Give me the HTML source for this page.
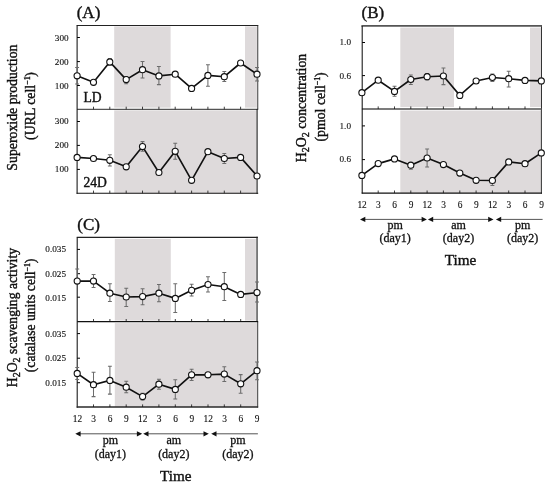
<!DOCTYPE html>
<html lang="en"><head><meta charset="utf-8"><title>Figure</title>
<style>
html,body{margin:0;padding:0;background:#fff;}
body{width:550px;height:489px;overflow:hidden;}
svg{display:block;font-family:'Liberation Serif', 'DejaVu Serif', serif;fill:#111;}
text{stroke:#111;stroke-width:0.4px;}
text.s{stroke-width:0.12px;}
text.m{stroke-width:0.3px;}
</style></head><body>
<svg width="550" height="489" viewBox="0 0 550 489">
<rect width="550" height="489" fill="#fff"/>
<rect x="114.2" y="26.40" width="56.4" height="81.25" fill="#dedadb"/>
<rect x="245.0" y="26.40" width="11.9" height="81.25" fill="#dedadb"/>
<rect x="114.2" y="110.35" width="142.2" height="82.85" fill="#dedadb"/>
<path d="M257.75 25.00L257.75 109.30" fill="none" stroke="#222" stroke-width="0.9"/>
<path d="M257.10 109.30L257.10 193.70" fill="none" stroke="#555" stroke-width="1.5"/>
<path d="M76.60 25.50L258.20 25.50" fill="none" stroke="#222" stroke-width="1.0"/>
<path d="M77.10 109.30L258.20 109.30" fill="none" stroke="#111" stroke-width="0.9"/>
<path d="M77.10 25.50V193.72" fill="none" stroke="#111" stroke-width="1.05"/>
<path d="M76.60 193.20L258.20 193.20" fill="none" stroke="#111" stroke-width="1.05"/>
<path d="M93.5 109.3v-2.6M93.5 193.2v-2.6M109.8 109.3v-2.6M109.8 193.2v-2.6M126.2 109.3v-2.6M126.2 193.2v-2.6M142.5 109.3v-2.6M142.5 193.2v-2.6M158.9 109.3v-2.6M158.9 193.2v-2.6M175.2 109.3v-2.6M175.2 193.2v-2.6M191.6 109.3v-2.6M191.6 193.2v-2.6M207.9 109.3v-2.6M207.9 193.2v-2.6M224.3 109.3v-2.6M224.3 193.2v-2.6M240.6 109.3v-2.6M240.6 193.2v-2.6" fill="none" stroke="#111" stroke-width="0.8"/>
<path d="M77.1 37.5h2.8M77.1 61.6h2.8M77.1 85.5h2.8M77.1 121.5h2.8M77.1 145.4h2.8M77.1 169.4h2.8" fill="none" stroke="#000" stroke-width="1"/>
<text x="68.6" y="40.8" font-size="9.2" text-anchor="end"  class="s">300</text>
<text x="68.6" y="64.9" font-size="9.2" text-anchor="end"  class="s">200</text>
<text x="68.6" y="88.8" font-size="9.2" text-anchor="end"  class="s">100</text>
<text x="68.6" y="123.8" font-size="9.2" text-anchor="end"  class="s">300</text>
<text x="68.6" y="147.7" font-size="9.2" text-anchor="end"  class="s">200</text>
<text x="68.6" y="171.7" font-size="9.2" text-anchor="end"  class="s">100</text>
<path d="M77.1 67.5V84.0M75.15 67.5h3.9M75.15 84.0h3.9M109.8 58.5V65.3M107.86 58.5h3.9M107.86 65.3h3.9M126.2 76.5V83.7M124.21 76.5h3.9M124.21 83.7h3.9M142.5 61.4V78.0M140.57 61.4h3.9M140.57 78.0h3.9M158.9 66.5V84.6M156.92 66.5h3.9M156.92 84.6h3.9M207.9 64.8V86.2M205.99 64.8h3.9M205.99 86.2h3.9M224.3 71.5V81.4M222.34 71.5h3.9M222.34 81.4h3.9M257.0 67.5V81.0M255.05 67.5h3.9M255.05 81.0h3.9" fill="none" stroke="#6c6c6c" stroke-width="1.05"/>
<polyline points="77.1,75.8 93.5,82.3 109.8,61.9 126.2,79.6 142.5,69.7 158.9,75.9 175.2,74.2 191.6,88.4 207.9,75.4 224.3,76.7 240.6,63.0 257.0,74.2" fill="none" stroke="#111" stroke-width="1.65" stroke-linejoin="round"/>
<circle cx="77.1" cy="75.8" r="3.05" fill="#fff" stroke="#111" stroke-width="1.1"/>
<circle cx="93.5" cy="82.3" r="3.05" fill="#fff" stroke="#111" stroke-width="1.1"/>
<circle cx="109.8" cy="61.9" r="3.05" fill="#fff" stroke="#111" stroke-width="1.1"/>
<circle cx="126.2" cy="79.6" r="3.05" fill="#fff" stroke="#111" stroke-width="1.1"/>
<circle cx="142.5" cy="69.7" r="3.05" fill="#fff" stroke="#111" stroke-width="1.1"/>
<circle cx="158.9" cy="75.9" r="3.05" fill="#fff" stroke="#111" stroke-width="1.1"/>
<circle cx="175.2" cy="74.2" r="3.05" fill="#fff" stroke="#111" stroke-width="1.1"/>
<circle cx="191.6" cy="88.4" r="3.05" fill="#fff" stroke="#111" stroke-width="1.1"/>
<circle cx="207.9" cy="75.4" r="3.05" fill="#fff" stroke="#111" stroke-width="1.1"/>
<circle cx="224.3" cy="76.7" r="3.05" fill="#fff" stroke="#111" stroke-width="1.1"/>
<circle cx="240.6" cy="63.0" r="3.05" fill="#fff" stroke="#111" stroke-width="1.1"/>
<circle cx="257.0" cy="74.2" r="3.05" fill="#fff" stroke="#111" stroke-width="1.1"/>
<path d="M109.8 154.7V165.9M107.86 154.7h3.9M107.86 165.9h3.9M142.5 141.6V151.3M140.57 141.6h3.9M140.57 151.3h3.9M175.2 143.2V159.2M173.28 143.2h3.9M173.28 159.2h3.9M224.3 153.5V163.4M222.34 153.5h3.9M222.34 163.4h3.9" fill="none" stroke="#6c6c6c" stroke-width="1.05"/>
<polyline points="77.1,157.4 93.5,158.5 109.8,160.3 126.2,166.8 142.5,146.6 158.9,172.5 175.2,151.3 191.6,180.3 207.9,151.7 224.3,158.5 240.6,157.4 257.0,176.0" fill="none" stroke="#111" stroke-width="1.65" stroke-linejoin="round"/>
<circle cx="77.1" cy="157.4" r="3.05" fill="#fff" stroke="#111" stroke-width="1.1"/>
<circle cx="93.5" cy="158.5" r="3.05" fill="#fff" stroke="#111" stroke-width="1.1"/>
<circle cx="109.8" cy="160.3" r="3.05" fill="#fff" stroke="#111" stroke-width="1.1"/>
<circle cx="126.2" cy="166.8" r="3.05" fill="#fff" stroke="#111" stroke-width="1.1"/>
<circle cx="142.5" cy="146.6" r="3.05" fill="#fff" stroke="#111" stroke-width="1.1"/>
<circle cx="158.9" cy="172.5" r="3.05" fill="#fff" stroke="#111" stroke-width="1.1"/>
<circle cx="175.2" cy="151.3" r="3.05" fill="#fff" stroke="#111" stroke-width="1.1"/>
<circle cx="191.6" cy="180.3" r="3.05" fill="#fff" stroke="#111" stroke-width="1.1"/>
<circle cx="207.9" cy="151.7" r="3.05" fill="#fff" stroke="#111" stroke-width="1.1"/>
<circle cx="224.3" cy="158.5" r="3.05" fill="#fff" stroke="#111" stroke-width="1.1"/>
<circle cx="240.6" cy="157.4" r="3.05" fill="#fff" stroke="#111" stroke-width="1.1"/>
<circle cx="257.0" cy="176.0" r="3.05" fill="#fff" stroke="#111" stroke-width="1.1"/>
<text x="83.5" y="101.6" font-size="13.6" text-anchor="start" >LD</text>
<text x="83.4" y="186.5" font-size="13.6" text-anchor="start" >24D</text>
<text x="76.7" y="17.8" font-size="17" text-anchor="start" >(A)</text>
<text transform="translate(17.2 107.6) rotate(-90)" font-size="13.8" text-anchor="middle">Superoxide production</text>
<text transform="translate(34.6 106.0) rotate(-90)" font-size="13.8" text-anchor="middle">(URL cell<tspan font-size="8" dy="-5">−1</tspan><tspan dy="5" dx="-0.4">)</tspan></text>
<rect x="400.3" y="27.55" width="53.7" height="79.50" fill="#dedadb"/>
<rect x="530.0" y="27.55" width="11.0" height="79.50" fill="#dedadb"/>
<rect x="400.3" y="110.55" width="140.7" height="82.55" fill="#dedadb"/>
<path d="M541.50 25.05L541.50 109.00" fill="none" stroke="#333" stroke-width="1.0"/>
<path d="M541.40 109.00L541.40 193.60" fill="none" stroke="#333" stroke-width="1.0"/>
<path d="M361.40 25.90L542.00 25.90" fill="none" stroke="#555" stroke-width="1.7"/>
<path d="M361.90 109.00L542.00 109.00" fill="none" stroke="#505050" stroke-width="1.7"/>
<path d="M362.20 25.90V193.62" fill="none" stroke="#111" stroke-width="1.05"/>
<path d="M361.70 193.10L542.00 193.10" fill="none" stroke="#111" stroke-width="1.05"/>
<path d="M378.2 109.0v-2.6M378.2 193.1v-2.6M394.5 109.0v-2.6M394.5 193.1v-2.6M410.8 109.0v-2.6M410.8 193.1v-2.6M427.1 109.0v-2.6M427.1 193.1v-2.6M443.4 109.0v-2.6M443.4 193.1v-2.6M459.8 109.0v-2.6M459.8 193.1v-2.6M476.1 109.0v-2.6M476.1 193.1v-2.6M492.4 109.0v-2.6M492.4 193.1v-2.6M508.7 109.0v-2.6M508.7 193.1v-2.6M525.0 109.0v-2.6M525.0 193.1v-2.6" fill="none" stroke="#111" stroke-width="0.8"/>
<path d="M362.2 42.5h2.8M362.2 75.6h2.8M362.2 125.9h2.8M362.2 159.6h2.8" fill="none" stroke="#000" stroke-width="1"/>
<text x="351.0" y="45.1" font-size="9.2" text-anchor="end"  class="s">1.0</text>
<text x="351.0" y="78.5" font-size="9.2" text-anchor="end"  class="s">0.6</text>
<text x="351.0" y="129.0" font-size="9.2" text-anchor="end"  class="s">1.0</text>
<text x="351.0" y="162.3" font-size="9.2" text-anchor="end"  class="s">0.6</text>
<path d="M394.5 86.2V96.3M392.57 86.2h3.9M392.57 96.3h3.9M410.8 74.9V84.4M408.88 74.9h3.9M408.88 84.4h3.9M427.1 73.5V80.0M425.19 73.5h3.9M425.19 80.0h3.9M443.4 68.0V84.6M441.50 68.0h3.9M441.50 84.6h3.9M492.4 74.0V81.5M490.42 74.0h3.9M490.42 81.5h3.9M508.7 71.3V87.0M506.73 71.3h3.9M506.73 87.0h3.9" fill="none" stroke="#6c6c6c" stroke-width="1.05"/>
<polyline points="361.9,92.7 378.2,80.2 394.5,91.4 410.8,79.5 427.1,76.7 443.4,76.0 459.8,95.4 476.1,81.0 492.4,77.5 508.7,78.7 525.0,80.4 541.3,80.9" fill="none" stroke="#111" stroke-width="1.65" stroke-linejoin="round"/>
<circle cx="361.9" cy="92.7" r="3.05" fill="#fff" stroke="#111" stroke-width="1.1"/>
<circle cx="378.2" cy="80.2" r="3.05" fill="#fff" stroke="#111" stroke-width="1.1"/>
<circle cx="394.5" cy="91.4" r="3.05" fill="#fff" stroke="#111" stroke-width="1.1"/>
<circle cx="410.8" cy="79.5" r="3.05" fill="#fff" stroke="#111" stroke-width="1.1"/>
<circle cx="427.1" cy="76.7" r="3.05" fill="#fff" stroke="#111" stroke-width="1.1"/>
<circle cx="443.4" cy="76.0" r="3.05" fill="#fff" stroke="#111" stroke-width="1.1"/>
<circle cx="459.8" cy="95.4" r="3.05" fill="#fff" stroke="#111" stroke-width="1.1"/>
<circle cx="476.1" cy="81.0" r="3.05" fill="#fff" stroke="#111" stroke-width="1.1"/>
<circle cx="492.4" cy="77.5" r="3.05" fill="#fff" stroke="#111" stroke-width="1.1"/>
<circle cx="508.7" cy="78.7" r="3.05" fill="#fff" stroke="#111" stroke-width="1.1"/>
<circle cx="525.0" cy="80.4" r="3.05" fill="#fff" stroke="#111" stroke-width="1.1"/>
<circle cx="541.3" cy="80.9" r="3.05" fill="#fff" stroke="#111" stroke-width="1.1"/>
<path d="M410.8 162.5V169.3M408.88 162.5h3.9M408.88 169.3h3.9M427.1 149.0V167.0M425.19 149.0h3.9M425.19 167.0h3.9M459.8 170.5V175.7M457.80 170.5h3.9M457.80 175.7h3.9M492.4 177.6V185.5M490.42 177.6h3.9M490.42 185.5h3.9" fill="none" stroke="#6c6c6c" stroke-width="1.05"/>
<polyline points="361.9,175.4 378.2,163.6 394.5,158.9 410.8,165.2 427.1,158.0 443.4,164.6 459.8,173.1 476.1,180.3 492.4,180.5 508.7,161.9 525.0,163.7 541.3,152.9" fill="none" stroke="#111" stroke-width="1.65" stroke-linejoin="round"/>
<circle cx="361.9" cy="175.4" r="3.05" fill="#fff" stroke="#111" stroke-width="1.1"/>
<circle cx="378.2" cy="163.6" r="3.05" fill="#fff" stroke="#111" stroke-width="1.1"/>
<circle cx="394.5" cy="158.9" r="3.05" fill="#fff" stroke="#111" stroke-width="1.1"/>
<circle cx="410.8" cy="165.2" r="3.05" fill="#fff" stroke="#111" stroke-width="1.1"/>
<circle cx="427.1" cy="158.0" r="3.05" fill="#fff" stroke="#111" stroke-width="1.1"/>
<circle cx="443.4" cy="164.6" r="3.05" fill="#fff" stroke="#111" stroke-width="1.1"/>
<circle cx="459.8" cy="173.1" r="3.05" fill="#fff" stroke="#111" stroke-width="1.1"/>
<circle cx="476.1" cy="180.3" r="3.05" fill="#fff" stroke="#111" stroke-width="1.1"/>
<circle cx="492.4" cy="180.5" r="3.05" fill="#fff" stroke="#111" stroke-width="1.1"/>
<circle cx="508.7" cy="161.9" r="3.05" fill="#fff" stroke="#111" stroke-width="1.1"/>
<circle cx="525.0" cy="163.7" r="3.05" fill="#fff" stroke="#111" stroke-width="1.1"/>
<circle cx="541.3" cy="152.9" r="3.05" fill="#fff" stroke="#111" stroke-width="1.1"/>
<text x="361.5" y="18.4" font-size="17" text-anchor="start" >(B)</text>
<text transform="translate(306.4 108.0) rotate(-90)" font-size="13.8" text-anchor="middle">H<tspan font-size="10" dy="2.8">2</tspan><tspan dy="-2.8">O</tspan><tspan font-size="10" dy="2.8">2</tspan><tspan dy="-2.8"> concentration</tspan></text>
<text transform="translate(324.5 107.0) rotate(-90)" font-size="13.8" text-anchor="middle">(pmol cell<tspan font-size="8" dy="-5">−1</tspan><tspan dy="5" dx="-0.4">)</tspan></text>
<text x="362.1" y="207.7" font-size="9.4" text-anchor="middle"  class="s">12</text>
<text x="378.4" y="207.7" font-size="9.4" text-anchor="middle"  class="s">3</text>
<text x="394.7" y="207.7" font-size="9.4" text-anchor="middle"  class="s">6</text>
<text x="411.0" y="207.7" font-size="9.4" text-anchor="middle"  class="s">9</text>
<text x="427.3" y="207.7" font-size="9.4" text-anchor="middle"  class="s">12</text>
<text x="443.6" y="207.7" font-size="9.4" text-anchor="middle"  class="s">3</text>
<text x="460.0" y="207.7" font-size="9.4" text-anchor="middle"  class="s">6</text>
<text x="476.3" y="207.7" font-size="9.4" text-anchor="middle"  class="s">9</text>
<text x="492.6" y="207.7" font-size="9.4" text-anchor="middle"  class="s">12</text>
<text x="508.9" y="207.7" font-size="9.4" text-anchor="middle"  class="s">3</text>
<text x="525.2" y="207.7" font-size="9.4" text-anchor="middle"  class="s">6</text>
<text x="541.5" y="207.7" font-size="9.4" text-anchor="middle"  class="s">9</text>
<path d="M362.0 219.4H424.9" stroke="#555" stroke-width="1" fill="none"/>
<path d="M360.0 219.4l5.3 -2.6v5.2z" fill="#111"/>
<path d="M426.9 219.4l-5.3 -2.6v5.2z" fill="#111"/>
<path d="M429.9 219.4H491.5" stroke="#555" stroke-width="1" fill="none"/>
<path d="M427.9 219.4l5.3 -2.6v5.2z" fill="#111"/>
<path d="M493.5 219.4l-5.3 -2.6v5.2z" fill="#111"/>
<path d="M497.9 219.4H542.6" stroke="#555" stroke-width="1" fill="none"/>
<path d="M495.9 219.4l5.3 -2.6v5.2z" fill="#111"/>
<text x="395.1" y="229.0" font-size="12" text-anchor="middle"  class="m">pm</text>
<text x="395.1" y="242.4" font-size="12" text-anchor="middle"  class="m">(day1)</text>
<text x="458.5" y="229.0" font-size="12" text-anchor="middle"  class="m">am</text>
<text x="458.5" y="242.4" font-size="12" text-anchor="middle"  class="m">(day2)</text>
<text x="522.6" y="229.0" font-size="12" text-anchor="middle"  class="m">pm</text>
<text x="522.6" y="242.4" font-size="12" text-anchor="middle"  class="m">(day2)</text>
<text x="460.5" y="265.1" font-size="15.2" text-anchor="middle" >Time</text>
<rect x="114.8" y="238.90" width="56.0" height="81.70" fill="#dedadb"/>
<rect x="245.0" y="238.90" width="10.9" height="81.70" fill="#dedadb"/>
<rect x="114.8" y="323.10" width="142.2" height="83.90" fill="#dedadb"/>
<path d="M257.05 236.70L257.05 321.60" fill="none" stroke="#555" stroke-width="1.5"/>
<path d="M257.70 321.60L257.70 407.50" fill="none" stroke="#222" stroke-width="0.9"/>
<path d="M76.70 237.40L257.80 237.40" fill="none" stroke="#222" stroke-width="1.4"/>
<path d="M77.20 321.60L258.15 321.60" fill="none" stroke="#111" stroke-width="1.4"/>
<path d="M77.20 237.40V407.85" fill="none" stroke="#111" stroke-width="1.05"/>
<path d="M76.70 407.00L258.15 407.00" fill="none" stroke="#2a2a2a" stroke-width="1.7"/>
<path d="M93.5 321.6v-2.6M93.5 407.0v-2.6M109.9 321.6v-2.6M109.9 407.0v-2.6M126.2 321.6v-2.6M126.2 407.0v-2.6M142.6 321.6v-2.6M142.6 407.0v-2.6M158.9 321.6v-2.6M158.9 407.0v-2.6M175.3 321.6v-2.6M175.3 407.0v-2.6M191.6 321.6v-2.6M191.6 407.0v-2.6M208.0 321.6v-2.6M208.0 407.0v-2.6M224.3 321.6v-2.6M224.3 407.0v-2.6M240.7 321.6v-2.6M240.7 407.0v-2.6" fill="none" stroke="#111" stroke-width="0.8"/>
<path d="M77.2 249.4h2.8M77.2 273.7h2.8M77.2 297.2h2.8M77.2 333.6h2.8M77.2 358.2h2.8M77.2 382.7h2.8" fill="none" stroke="#000" stroke-width="1"/>
<text x="66.0" y="252.1" font-size="9.2" text-anchor="end"  class="s">0.035</text>
<text x="66.0" y="276.8" font-size="9.2" text-anchor="end"  class="s">0.025</text>
<text x="66.0" y="300.7" font-size="9.2" text-anchor="end"  class="s">0.015</text>
<text x="66.0" y="336.7" font-size="9.2" text-anchor="end"  class="s">0.035</text>
<text x="66.0" y="361.3" font-size="9.2" text-anchor="end"  class="s">0.025</text>
<text x="66.0" y="385.8" font-size="9.2" text-anchor="end"  class="s">0.015</text>
<path d="M77.2 269.0V283.0M75.25 269.0h3.9M75.25 283.0h3.9M93.5 274.5V287.5M91.60 274.5h3.9M91.60 287.5h3.9M109.9 283.8V301.4M107.94 283.8h3.9M107.94 301.4h3.9M126.2 288.3V306.5M124.29 288.3h3.9M124.29 306.5h3.9M142.6 288.7V304.7M140.63 288.7h3.9M140.63 304.7h3.9M158.9 284.5V301.8M156.98 284.5h3.9M156.98 301.8h3.9M175.3 283.8V312.4M173.32 283.8h3.9M173.32 312.4h3.9M191.6 284.2V296.0M189.67 284.2h3.9M189.67 296.0h3.9M208.0 276.8V292.0M206.01 276.8h3.9M206.01 292.0h3.9M224.3 272.5V300.4M222.36 272.5h3.9M222.36 300.4h3.9M257.0 282.0V302.0M255.05 282.0h3.9M255.05 302.0h3.9" fill="none" stroke="#6c6c6c" stroke-width="1.05"/>
<polyline points="77.2,281.1 93.5,281.1 109.9,293.2 126.2,297.0 142.6,296.6 158.9,293.2 175.3,298.4 191.6,290.3 208.0,284.5 224.3,286.7 240.7,294.4 257.0,292.6" fill="none" stroke="#111" stroke-width="1.65" stroke-linejoin="round"/>
<circle cx="77.2" cy="281.1" r="3.05" fill="#fff" stroke="#111" stroke-width="1.1"/>
<circle cx="93.5" cy="281.1" r="3.05" fill="#fff" stroke="#111" stroke-width="1.1"/>
<circle cx="109.9" cy="293.2" r="3.05" fill="#fff" stroke="#111" stroke-width="1.1"/>
<circle cx="126.2" cy="297.0" r="3.05" fill="#fff" stroke="#111" stroke-width="1.1"/>
<circle cx="142.6" cy="296.6" r="3.05" fill="#fff" stroke="#111" stroke-width="1.1"/>
<circle cx="158.9" cy="293.2" r="3.05" fill="#fff" stroke="#111" stroke-width="1.1"/>
<circle cx="175.3" cy="298.4" r="3.05" fill="#fff" stroke="#111" stroke-width="1.1"/>
<circle cx="191.6" cy="290.3" r="3.05" fill="#fff" stroke="#111" stroke-width="1.1"/>
<circle cx="208.0" cy="284.5" r="3.05" fill="#fff" stroke="#111" stroke-width="1.1"/>
<circle cx="224.3" cy="286.7" r="3.05" fill="#fff" stroke="#111" stroke-width="1.1"/>
<circle cx="240.7" cy="294.4" r="3.05" fill="#fff" stroke="#111" stroke-width="1.1"/>
<circle cx="257.0" cy="292.6" r="3.05" fill="#fff" stroke="#111" stroke-width="1.1"/>
<path d="M77.2 367.4V379.4M75.25 367.4h3.9M75.25 379.4h3.9M93.5 372.3V396.6M91.60 372.3h3.9M91.60 396.6h3.9M109.9 366.2V394.1M107.94 366.2h3.9M107.94 394.1h3.9M126.2 381.3V392.8M124.29 381.3h3.9M124.29 392.8h3.9M142.6 393.2V400.0M140.63 393.2h3.9M140.63 400.0h3.9M158.9 379.3V389.2M156.98 379.3h3.9M156.98 389.2h3.9M175.3 379.7V398.9M173.32 379.7h3.9M173.32 398.9h3.9M191.6 369.2V380.4M189.67 369.2h3.9M189.67 380.4h3.9M224.3 366.7V381.5M222.36 366.7h3.9M222.36 381.5h3.9M240.7 374.6V393.2M238.70 374.6h3.9M238.70 393.2h3.9M257.0 362.0V379.7M255.05 362.0h3.9M255.05 379.7h3.9" fill="none" stroke="#6c6c6c" stroke-width="1.05"/>
<polyline points="77.2,373.4 93.5,384.7 109.9,380.4 126.2,387.2 142.6,396.6 158.9,384.2 175.3,389.4 191.6,374.8 208.0,374.8 224.3,374.1 240.7,383.8 257.0,370.7" fill="none" stroke="#111" stroke-width="1.65" stroke-linejoin="round"/>
<circle cx="77.2" cy="373.4" r="3.05" fill="#fff" stroke="#111" stroke-width="1.1"/>
<circle cx="93.5" cy="384.7" r="3.05" fill="#fff" stroke="#111" stroke-width="1.1"/>
<circle cx="109.9" cy="380.4" r="3.05" fill="#fff" stroke="#111" stroke-width="1.1"/>
<circle cx="126.2" cy="387.2" r="3.05" fill="#fff" stroke="#111" stroke-width="1.1"/>
<circle cx="142.6" cy="396.6" r="3.05" fill="#fff" stroke="#111" stroke-width="1.1"/>
<circle cx="158.9" cy="384.2" r="3.05" fill="#fff" stroke="#111" stroke-width="1.1"/>
<circle cx="175.3" cy="389.4" r="3.05" fill="#fff" stroke="#111" stroke-width="1.1"/>
<circle cx="191.6" cy="374.8" r="3.05" fill="#fff" stroke="#111" stroke-width="1.1"/>
<circle cx="208.0" cy="374.8" r="3.05" fill="#fff" stroke="#111" stroke-width="1.1"/>
<circle cx="224.3" cy="374.1" r="3.05" fill="#fff" stroke="#111" stroke-width="1.1"/>
<circle cx="240.7" cy="383.8" r="3.05" fill="#fff" stroke="#111" stroke-width="1.1"/>
<circle cx="257.0" cy="370.7" r="3.05" fill="#fff" stroke="#111" stroke-width="1.1"/>
<text x="77.3" y="229.5" font-size="17" text-anchor="start" >(C)</text>
<text transform="translate(17.2 317.6) rotate(-90)" font-size="13.7" text-anchor="middle">H<tspan font-size="10" dy="2.8">2</tspan><tspan dy="-2.8">O</tspan><tspan font-size="10" dy="2.8">2</tspan><tspan dy="-2.8"> scavenging activity</tspan></text>
<text transform="translate(34.9 315.5) rotate(-90)" font-size="13.65" text-anchor="middle">(catalase units cell<tspan font-size="8" dy="-5">−1</tspan><tspan dy="5" dx="-0.4">)</tspan></text>
<text x="77.4" y="422.1" font-size="9.4" text-anchor="middle"  class="s">12</text>
<text x="93.7" y="422.1" font-size="9.4" text-anchor="middle"  class="s">3</text>
<text x="110.1" y="422.1" font-size="9.4" text-anchor="middle"  class="s">6</text>
<text x="126.4" y="422.1" font-size="9.4" text-anchor="middle"  class="s">9</text>
<text x="142.8" y="422.1" font-size="9.4" text-anchor="middle"  class="s">12</text>
<text x="159.1" y="422.1" font-size="9.4" text-anchor="middle"  class="s">3</text>
<text x="175.5" y="422.1" font-size="9.4" text-anchor="middle"  class="s">6</text>
<text x="191.8" y="422.1" font-size="9.4" text-anchor="middle"  class="s">9</text>
<text x="208.2" y="422.1" font-size="9.4" text-anchor="middle"  class="s">12</text>
<text x="224.5" y="422.1" font-size="9.4" text-anchor="middle"  class="s">3</text>
<text x="240.9" y="422.1" font-size="9.4" text-anchor="middle"  class="s">6</text>
<text x="257.2" y="422.1" font-size="9.4" text-anchor="middle"  class="s">9</text>
<path d="M77.3 433.8H140.2" stroke="#555" stroke-width="1" fill="none"/>
<path d="M75.3 433.8l5.3 -2.6v5.2z" fill="#111"/>
<path d="M142.2 433.8l-5.3 -2.6v5.2z" fill="#111"/>
<path d="M145.2 433.8H206.8" stroke="#555" stroke-width="1" fill="none"/>
<path d="M143.2 433.8l5.3 -2.6v5.2z" fill="#111"/>
<path d="M208.8 433.8l-5.3 -2.6v5.2z" fill="#111"/>
<path d="M213.2 433.8H257.9" stroke="#555" stroke-width="1" fill="none"/>
<path d="M211.2 433.8l5.3 -2.6v5.2z" fill="#111"/>
<text x="110.4" y="443.5" font-size="12" text-anchor="middle"  class="m">pm</text>
<text x="110.4" y="457.8" font-size="12" text-anchor="middle"  class="m">(day1)</text>
<text x="173.8" y="443.5" font-size="12" text-anchor="middle"  class="m">am</text>
<text x="173.8" y="457.8" font-size="12" text-anchor="middle"  class="m">(day2)</text>
<text x="237.9" y="443.5" font-size="12" text-anchor="middle"  class="m">pm</text>
<text x="237.9" y="457.8" font-size="12" text-anchor="middle"  class="m">(day2)</text>
<text x="175.8" y="481.1" font-size="15.2" text-anchor="middle" >Time</text>
</svg>
</body></html>
